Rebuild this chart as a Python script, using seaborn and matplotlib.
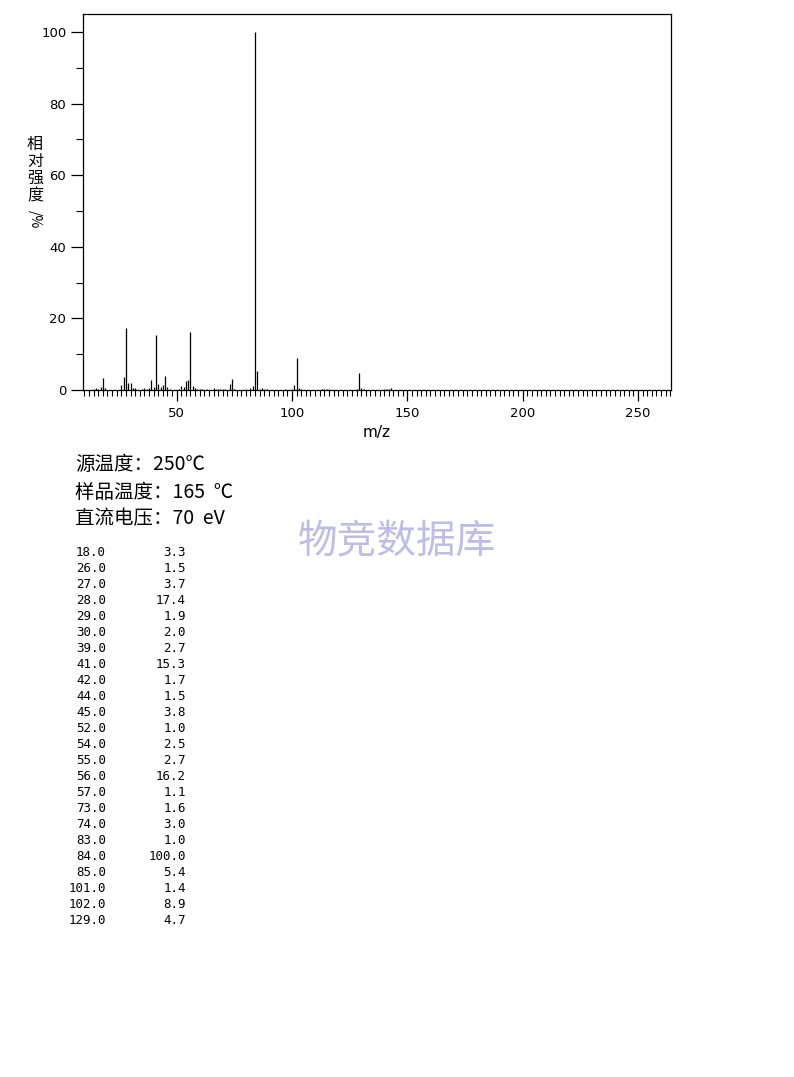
import matplotlib
matplotlib.use('Agg')
import matplotlib.pyplot as plt
import seaborn as sns
import pandas as pd
from matplotlib.ticker import MultipleLocator

# peaks listed in the table (m/z, relative intensity %)
mz_listed = [18, 26, 27, 28, 29, 30, 39, 41, 42, 44, 45, 52, 54, 55, 56, 57,
             73, 74, 83, 84, 85, 101, 102, 129]
int_listed = [3.3, 1.5, 3.7, 17.4, 1.9, 2.0, 2.7, 15.3, 1.7, 1.5, 3.8, 1.0, 2.5,
              2.7, 16.2, 1.1, 1.6, 3.0, 1.0, 100.0, 5.4, 1.4, 8.9, 4.7]

# small peaks (< 1 %)
mz_small = [14, 15, 16, 17, 19, 31, 32, 35, 36, 37, 38, 40, 43, 46, 47, 51, 53,
            58, 59, 60, 61, 63, 66, 67, 68, 69, 70, 71, 75, 80, 82, 86, 87, 88,
            89, 97, 100, 103, 104, 113, 114, 115, 116, 128, 130, 131, 140, 141,
            142, 143]
int_small = [0.3, 0.6, 0.4, 0.9, 0.5, 0.6, 0.5, 0.3, 0.5, 0.4, 0.5, 0.8, 0.9,
             0.7, 0.4, 0.3, 0.8, 0.6, 0.3, 0.3, 0.3, 0.3, 0.5, 0.4, 0.3, 0.3,
             0.3, 0.3, 0.4, 0.3, 0.5, 0.4, 0.6, 0.4, 0.3, 0.3, 0.4, 0.5, 0.3,
             0.3, 0.3, 0.3, 0.3, 0.4, 0.5, 0.3, 0.3, 0.4, 0.3, 0.6]

table_mz = ['%.1f' % m for m in mz_listed]
table_int = ['%.1f' % v for v in int_listed]

conditions = ['源温度：250℃', '样品温度：165  ℃', '直流电压：70  eV']

df = pd.DataFrame({'mz': mz_listed + mz_small,
                   'intensity': int_listed + int_small})

sns.set_style('white')
plt.rcParams['font.family'] = ['DejaVu Sans', 'Noto Sans CJK SC']
for k in ['text.color', 'axes.labelcolor', 'xtick.color', 'ytick.color']:
    plt.rcParams[k] = 'black'
cjk = ['Noto Sans CJK SC', 'DejaVu Sans']

W, H = 794, 1077
fig = plt.figure(figsize=(W / 100, H / 100), dpi=100)
ax = fig.add_axes([83 / W, 1 - 390 / H, 588 / W, 376 / H])

ax.vlines(df['mz'], 0, df['intensity'], color='black', linewidth=0.9)

ax.set_xlim(9.4, 264.3)
ax.set_ylim(0, 105)
ax.xaxis.set_major_locator(MultipleLocator(50))
ax.xaxis.set_minor_locator(MultipleLocator(2))
ax.yaxis.set_major_locator(MultipleLocator(20))
ax.yaxis.set_minor_locator(MultipleLocator(10))
ax.tick_params(axis='x', which='major', direction='out', length=8, width=0.9,
               labelsize=9.5, pad=4)
ax.tick_params(axis='x', which='minor', direction='out', length=4, width=0.8)
ax.tick_params(axis='y', which='major', direction='out', length=9, width=0.9,
               labelsize=9.5, pad=3)
ax.tick_params(axis='y', which='minor', direction='out', length=5, width=0.8)
ax.tick_params(bottom=True, left=True, which='both')
for s in ax.spines.values():
    s.set_color('black')
    s.set_linewidth(0.9)

ax.set_xlabel('m/z', fontsize=11, labelpad=4)

# vertical y label
fig.text(35 / W, 1 - 136 / H, '相\n对\n强\n度', family=cjk, fontsize=11.5,
         ha='center', va='top', linespacing=1.0)
fig.text(35 / W, 1 - 219 / H, '/%', family=cjk, fontsize=10, rotation=-90,
         ha='center', va='center')

for i, line in enumerate(conditions):
    fig.text(75 / W, 1 - (465 + 27 * i) / H, line, family=cjk, fontsize=14,
             ha='left', va='center')

fig.text(397 / W, 1 - 541 / H, '物竞数据库', family=cjk, fontsize=28.5,
         color='#bdbde8', ha='center', va='center')

for i, (m, v) in enumerate(zip(table_mz, table_int)):
    y = 1 - (552 + 16 * i) / H
    fig.text(106 / W, y, m, family='DejaVu Sans Mono', fontsize=9,
             ha='right', va='center')
    fig.text(186 / W, y, v, family='DejaVu Sans Mono', fontsize=9,
             ha='right', va='center')

fig.savefig('out.png', dpi=100)
